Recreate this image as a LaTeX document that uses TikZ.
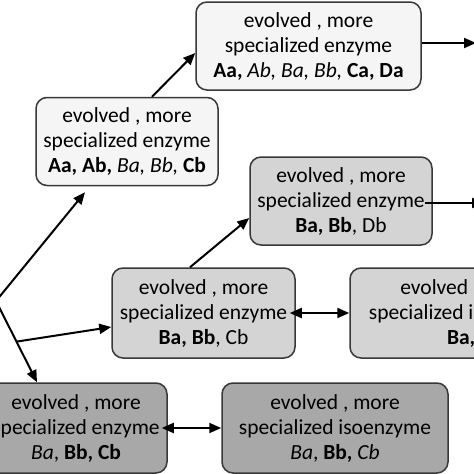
\documentclass[tikz,border=0pt]{standalone}
\usepackage{fontspec}
\setmainfont{Carlito}
\usetikzlibrary{arrows.meta,calc}
\begin{document}
\begin{tikzpicture}[x=1pt,y=-1pt,
 box/.style={draw=black!78, line width=1.5pt, rounded corners=11pt, minimum height=88pt, inner sep=0pt, align=center, font=\fontsize{21.5}{25}\selectfont, text=black},
 light/.style={box, fill=black!4},
 mid/.style={box, fill=black!17},
 dark/.style={box, fill=black!34},
 arr/.style={line width=2pt, -{Triangle[length=12pt,width=10pt]}},
 darr/.style={line width=2pt, {Triangle[length=12pt,width=10pt]}-{Triangle[length=12pt,width=10pt]}}]
\useasboundingbox (0,0) rectangle (474,474);
\clip (0,0) rectangle (474,474);
\node[light, minimum width=225pt] (b1) at (308.5,46) {evolved , more\\specialized enzyme\\\textbf{Aa,} \textit{Ab, Ba, Bb,} \textbf{Ca, Da}};
\node[light, minimum width=182pt] (b2) at (127,141.5) {evolved , more\\specialized enzyme\\\textbf{Aa, Ab,} \textit{Ba, Bb,} \textbf{Cb}};
\node[mid, minimum width=182pt] (b3) at (341,201) {evolved , more\\specialized enzyme\\\textbf{Ba, Bb}, Db};
\node[mid, minimum width=183pt, minimum height=90pt] (b4) at (203.5,313) {evolved , more\\specialized enzyme\\\textbf{Ba, Bb}, Cb};
\node[mid, minimum width=230pt, minimum height=90pt] (b5) at (465,313) {evolved , more\\specialized isoenzyme\\\makebox[0pt][l]{\hspace*{-18pt}\textbf{Ba, Bb}, Cb}};
\node[dark, minimum width=182pt, minimum height=90pt] (b6) at (76,428) {evolved , more\\specialized enzyme\\\textit{Ba}, \textbf{Bb, Cb}};
\node[dark, minimum width=226pt, minimum height=90pt] (b7) at (335,428) {evolved , more\\specialized isoenzyme\\\textit{Ba}, \textbf{Bb,} \textit{Cb}};
\coordinate (o) at (-4,301);
\coordinate (e1) at (476,43);
\coordinate (e3) at (484,203);
\draw[arr] ([xshift=25pt]b2.north) -- ([yshift=-7pt]b1.west);
\draw[arr] ([xshift=-13.5pt]b4.north) -- ([yshift=-17pt]b3.west);
\draw[arr] (o) -- ([xshift=-42pt,yshift=-6pt]b2.south);
\draw[arr] (o) -- coordinate[pos=0.5] (br) ([xshift=-39pt]b6.north);
\draw[arr] (br) -- ([yshift=-14pt]b4.west);
\draw[darr] ([xshift=-6pt]b4.east) -- (b5.west);
\draw[darr] ([xshift=-6pt]b6.east) -- (b7.west);
\draw[arr] ([yshift=3pt]b1.east) -- (e1);
\draw[arr] ([xshift=-8pt,yshift=-2pt]b3.east) -- (e3);
\end{tikzpicture}
\end{document}
